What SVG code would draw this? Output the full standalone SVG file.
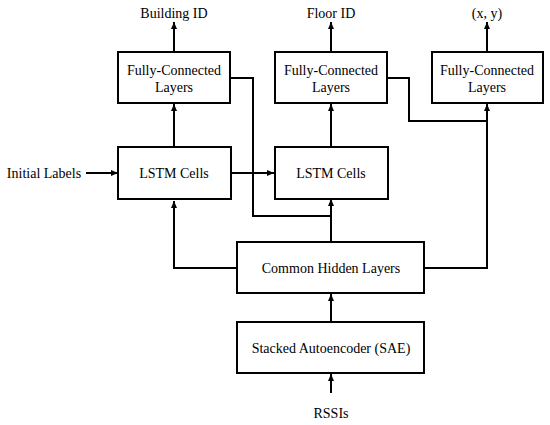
<svg xmlns="http://www.w3.org/2000/svg" width="550" height="425" viewBox="0 0 550 425">
<style>
.box{fill:#fff;stroke:#000;stroke-width:2}
.t{font-family:'Liberation Serif','Times New Roman','DejaVu Serif',serif;font-size:14px;fill:#000;text-anchor:middle}
.c{fill:none;stroke:#000;stroke-width:2}
</style>
<defs>
<marker id="ah" markerWidth="8" markerHeight="8" refX="7" refY="4" orient="auto" markerUnits="userSpaceOnUse">
<path d="M0,1 L7,4 L0,7 z" fill="#000"/>
</marker>
</defs>
<rect width="550" height="425" fill="#fff"/>
<g id="connectors">
<line class="c" x1="174" y1="52" x2="174" y2="22" marker-end="url(#ah)"/>
<line class="c" x1="331" y1="52" x2="331" y2="22" marker-end="url(#ah)"/>
<line class="c" x1="487" y1="52" x2="487" y2="22" marker-end="url(#ah)"/>
<line class="c" x1="174" y1="147" x2="174" y2="104" marker-end="url(#ah)"/>
<line class="c" x1="331" y1="147" x2="331" y2="104" marker-end="url(#ah)"/>
<line class="c" x1="86" y1="173" x2="118" y2="173" marker-end="url(#ah)"/>
<line class="c" x1="231" y1="173" x2="274" y2="173" marker-end="url(#ah)"/>
<line class="c" x1="331" y1="242" x2="331" y2="199" marker-end="url(#ah)"/>
<polyline class="c" points="230,78 253,78 253,216 331,216"/>
<polyline class="c" points="387,78 409,78 409,121 487,121"/>
<polyline class="c" points="237,268 174,268 174,201" marker-end="url(#ah)"/>
<polyline class="c" points="424,268 487,268 487,104" marker-end="url(#ah)"/>
<line class="c" x1="331" y1="322" x2="331" y2="294" marker-end="url(#ah)"/>
<line class="c" x1="331" y1="393" x2="331" y2="374" marker-end="url(#ah)"/>
</g>
<g id="fc1"><rect class="box" x="118" y="52" width="112" height="51"/><text class="t" x="174" y="75">Fully-Connected</text><text class="t" x="174" y="92">Layers</text></g>
<g id="fc2"><rect class="box" x="275" y="52" width="112" height="51"/><text class="t" x="331" y="75">Fully-Connected</text><text class="t" x="331" y="92">Layers</text></g>
<g id="fc3"><rect class="box" x="432" y="52" width="111" height="51"/><text class="t" x="487" y="75">Fully-Connected</text><text class="t" x="487" y="92">Layers</text></g>
<g id="lstm1"><rect class="box" x="118" y="147" width="113" height="52"/><text class="t" x="174" y="178">LSTM Cells</text></g>
<g id="lstm2"><rect class="box" x="275" y="147" width="113" height="52"/><text class="t" x="331" y="178">LSTM Cells</text></g>
<g id="chl"><rect class="box" x="237" y="242" width="187" height="51"/><text class="t" x="331" y="273">Common Hidden Layers</text></g>
<g id="sae"><rect class="box" x="237" y="322" width="187" height="51"/><text class="t" x="331" y="353">Stacked Autoencoder (SAE)</text></g>
<g id="labels">
<text class="t" x="174" y="18">Building ID</text>
<text class="t" x="331" y="18">Floor ID</text>
<text class="t" x="487" y="18">(x, y)</text>
<text class="t" x="44" y="178">Initial Labels</text>
<text class="t" x="331" y="418">RSSIs</text>
</g>
</svg>
